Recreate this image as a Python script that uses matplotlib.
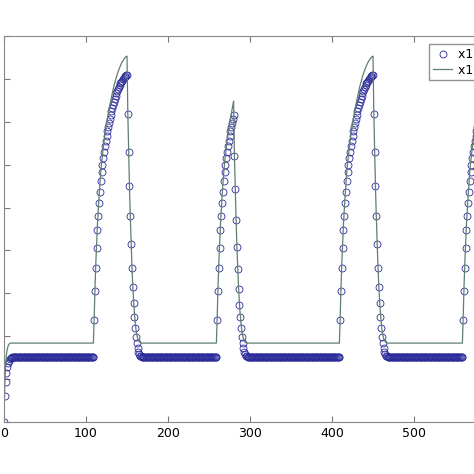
import numpy as np
import matplotlib
matplotlib.use("Agg")
import matplotlib.pyplot as plt

# marker series (estimate) segments, step 1
init_m = [0, 0.6, 0.93, 1.14, 1.28, 1.37, 1.43, 1.47, 1.49, 1.5]
rise_m = [2.37, 3.05, 3.6, 4.05, 4.47, 4.8, 5.1, 5.37, 5.63, 5.83, 6.0, 6.15, 6.3, 6.43, 6.55,
          6.67, 6.78, 6.88, 6.98, 7.07, 7.16, 7.24, 7.32, 7.4, 7.47, 7.54, 7.6, 7.66, 7.72, 7.77,
          7.82, 7.86, 7.9, 7.93, 7.96, 7.99, 8.02, 8.04, 8.06, 8.08, 8.1]
decayA_m = [7.19, 6.3, 5.5, 4.8, 4.16, 3.6, 3.14, 2.77, 2.44, 2.19, 1.98, 1.84, 1.72, 1.64, 1.58, 1.55, 1.53, 1.52]
decayB_m = [6.2, 5.44, 4.72, 4.07, 3.56, 3.09, 2.72, 2.44, 2.19, 1.98, 1.84, 1.72, 1.64, 1.58, 1.55, 1.53, 1.52]
base_m = 1.51

# line series (real)
init_l = [0, 0.9, 1.35, 1.58, 1.7, 1.77, 1.81, 1.83, 1.84]
rise_l = [2.45, 3.15, 3.72, 4.19, 4.62, 4.97, 5.28, 5.56, 5.83, 6.04, 6.22, 6.38, 6.54, 6.68, 6.81,
          6.94, 7.06, 7.17, 7.28, 7.38, 7.48, 7.57, 7.66, 7.75, 7.83, 7.9, 7.97, 8.04, 8.1, 8.16,
          8.21, 8.26, 8.31, 8.35, 8.39, 8.42, 8.45, 8.48, 8.5, 8.52, 8.53]
decayA_l = [7.2, 6.3, 5.5, 4.8, 4.2, 3.65, 3.2, 2.85, 2.55, 2.32, 2.15, 2.03, 1.95, 1.9, 1.87, 1.85, 1.84]
decayB_l = [6.2, 5.45, 4.75, 4.1, 3.6, 3.15, 2.8, 2.52, 2.3, 2.13, 2.02, 1.94, 1.89, 1.86, 1.85, 1.84]
base_l = 1.84

pulse_starts = [110, 260, 410, 560]
pulse_lens = [41, 21, 41, 21]
t_end = 580

def build(init, rise, dA, dB, base):
    y = np.full(t_end + 1, base, dtype=float)
    y[:len(init)] = init
    for s, L in zip(pulse_starts, pulse_lens):
        seg = rise[:L]
        e = min(s + L, t_end + 1)
        y[s:e] = seg[:e - s]
        d = dA if L == 41 else dB
        if e < t_end + 1:
            e2 = min(e + len(d), t_end + 1)
            y[e:e2] = d[:e2 - e]
    return y

t = np.arange(t_end + 1)
ym = build(init_m, rise_m, decayA_m, decayB_m, base_m)
yl = build(init_l, rise_l, decayA_l, decayB_l, base_l)

fig = plt.figure(figsize=(4.74, 4.74), dpi=100)
ax = fig.add_axes([4/474, 52/474, 492/474, 386/474])
ax.plot(t, ym, 'o', ms=5, mfc='none', mec='#2a2a9a', mew=0.6, label='x1 est')
ax.plot(t, yl, '-', color='#5f7f6f', lw=0.9, label='x1 real')
ax.set_xlim(0, 600)
ax.set_ylim(0, 9)
ax.set_xticks([0, 100, 200, 300, 400, 500, 600])
ax.set_yticks(np.arange(0, 10))
ax.set_yticklabels([])
ax.tick_params(direction='in', top=True, right=True, labelsize=9, length=4, color='#777777')
for s in ax.spines.values():
    s.set_color('#888888')
ax.legend(loc='upper left', bbox_to_anchor=(423/492, 0.985), fontsize=9, frameon=True,
          fancybox=False, edgecolor='#777777', handlelength=1.5, handletextpad=0.5,
          borderpad=0.3, borderaxespad=0.2, labelspacing=0.2)
fig.savefig('out.png', dpi=100)
